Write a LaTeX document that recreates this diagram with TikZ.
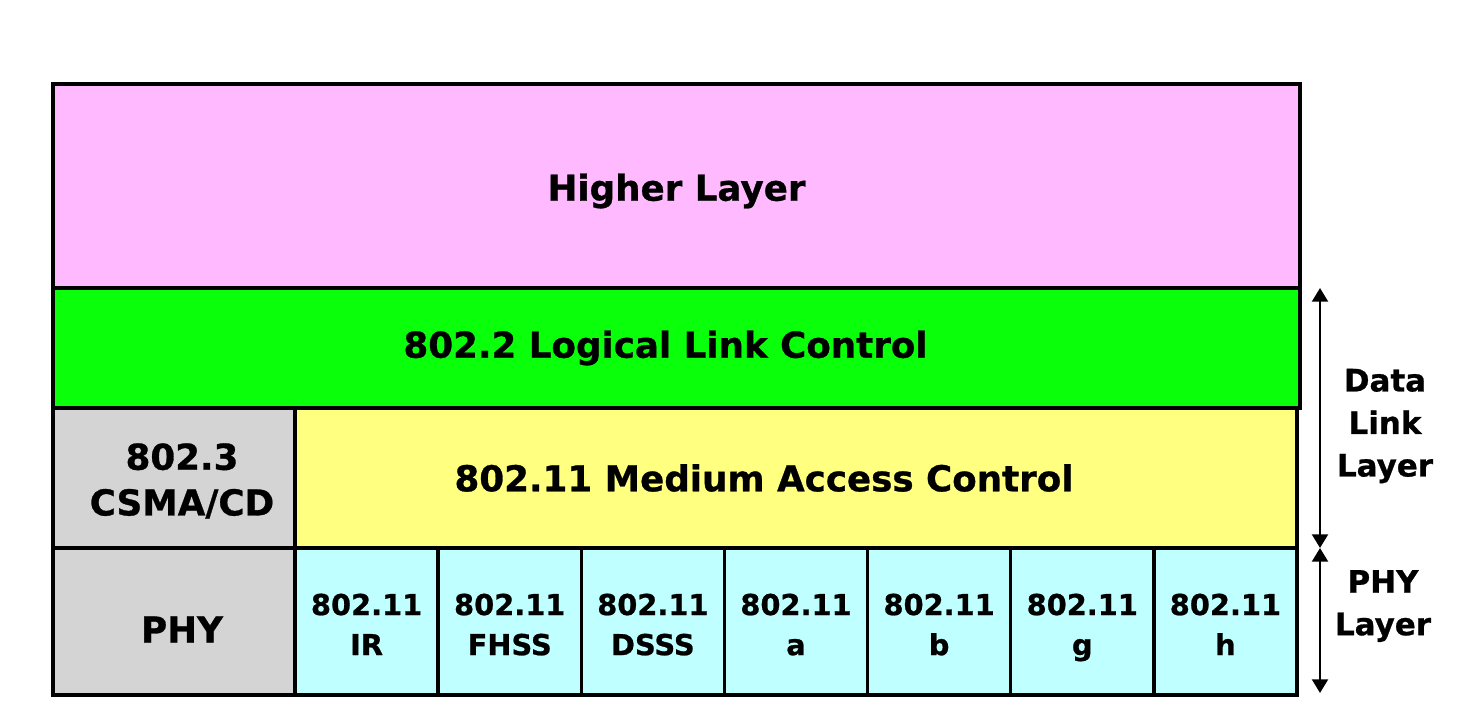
\documentclass[tikz,border=0pt]{standalone}
\usepackage{fontspec}
\setmainfont{DejaVu Sans}
\newfontfamily\heavyfont{DejaVu Sans Bold}[FakeBold=0.8]
\usetikzlibrary{arrows.meta, positioning, calc}

\definecolor{hlpink}{HTML}{FFB9FF}
\definecolor{llcgreen}{HTML}{0AFF0A}
\definecolor{csmagrey}{HTML}{D4D4D4}
\definecolor{macyellow}{HTML}{FFFF80}
\definecolor{phycyan}{HTML}{C0FFFF}

% lower a line of text without changing the box size
\newcommand{\drop}[2]{\raisebox{-#1}[\height][\depth]{#2}}

\begin{document}
\begin{tikzpicture}[
  % --- styles ------------------------------------------------------------
  layer/.style={
    rectangle, draw, line width=1pt, inner sep=0pt, outer sep=0pt,
    align=center, font=\fontsize{10.15}{13}\selectfont\heavyfont
  },
  stdcell/.style={
    layer, fill=phycyan, minimum width=1.4314cm, minimum height=1.47cm,
    font=\fontsize{8.2}{11.4}\selectfont\heavyfont
  },
  sidelabel/.style={align=center, font=\fontsize{8.8}{12.1}\selectfont\heavyfont},
  span/.style={{Triangle[length=3.9pt,width=4.5pt]}-{Triangle[length=3.9pt,width=4.5pt]}, line width=0.8pt},
  node distance = 0pt and 0pt
]
\useasboundingbox (0,0) rectangle (14.61,7.27);

% --------------------- upper layers -------------------------------------
\node[layer, fill=hlpink, minimum width=12.47cm, minimum height=2.04cm, anchor=north west]
  (higher) at (0.53,6.43) {\drop{0.05cm}{Higher Layer}};
\node[layer, fill=llcgreen, minimum width=12.47cm, minimum height=1.20cm, below=of higher]
  (llc) {\hspace*{-0.22cm}802.2 Logical Link Control};

% --------------------- MAC row ------------------------------------------
\node[layer, fill=csmagrey, minimum width=2.42cm, minimum height=1.40cm, anchor=north west]
  (csma) at (llc.south west) {\hspace*{0.16cm}\drop{0.03cm}{802.3}\\\hspace*{0.16cm}\drop{0.03cm}{CSMA/CD}};
\node[layer, fill=macyellow, minimum width=10.02cm, minimum height=1.40cm, right=of csma]
  (mac) {\hspace*{-0.64cm}802.11 Medium Access Control};

% --------------------- PHY row ------------------------------------------
\node[layer, fill=csmagrey, minimum width=2.42cm, minimum height=1.47cm, below=of csma]
  (phy) {\hspace*{0.16cm}\drop{0.08cm}{PHY}};
\foreach \lbl [count=\i from 0] in {IR,FHSS,DSSS,a,b,g,h}
  \node[stdcell, anchor=north west] (std\i) at ($(phy.north east)+(\i*1.4314,0)$)
    {\drop{0.06cm}{802.11}\\\drop{0.06cm}{\lbl\vphantom{g}}};

% --------------------- layer spans --------------------------------------
\coordinate (dlTop) at ($(llc.north east)+(0.20,0)$);
\coordinate (dlMid) at (dlTop |- mac.south);
\coordinate (phyBot) at ($(dlTop |- std6.south)+(0,0.02)$);
\draw[span] (dlTop) -- (dlMid);
\draw[span] (dlMid) -- (phyBot);

\node[sidelabel] (dll) at (13.85,3.01) {Data\\Link\\Layer};
\node[sidelabel] (phyl) at (13.83,1.21) {PHY\\Layer};

\end{tikzpicture}
\end{document}
